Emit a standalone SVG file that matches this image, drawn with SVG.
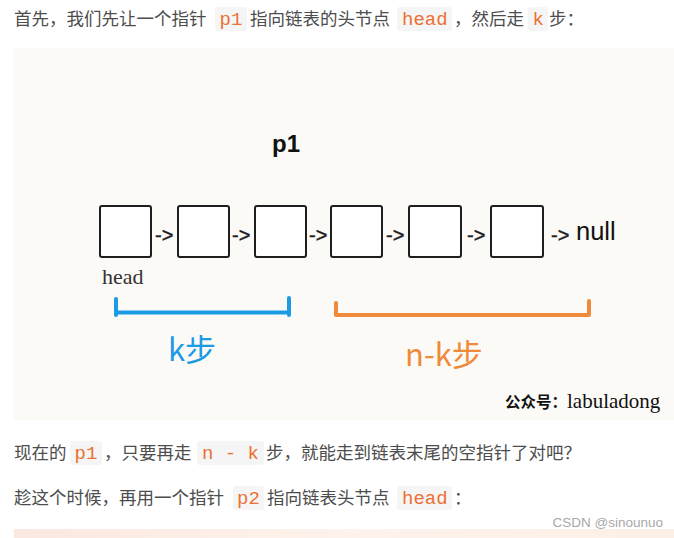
<svg xmlns="http://www.w3.org/2000/svg" width="674" height="538" viewBox="0 0 674 538">
<defs>
<style>
.body{font-family:"Noto Sans CJK SC","Liberation Sans",sans-serif;font-size:17.5px;fill:#4d4d4d}
.code{font-family:"Liberation Mono","DejaVu Sans Mono",monospace;font-size:19px;fill:#ec7033}
.codebg{fill:#f5f5f5}
.node{fill:#ffffff;stroke:#1e1e1e;stroke-width:2}
.arrow{font-family:"Liberation Sans",Arial,sans-serif;font-size:20px;fill:#1e1e1e;stroke:#1e1e1e;stroke-width:0.4}
.hand{font-family:"Noto Sans CJK SC","Liberation Sans",sans-serif}
</style>
<linearGradient id="strip" x1="0" y1="0" x2="1" y2="0">
<stop offset="0" stop-color="#fbe8e0"/>
<stop offset="0.5" stop-color="#fdf3ec"/>
<stop offset="1" stop-color="#fcefe6"/>
</linearGradient>
</defs>
<rect width="674" height="538" fill="#ffffff"/>

<!-- paragraph 1 -->
<g id="para1">
<text class="body" x="14" y="25">首先，我们先让一个指针</text>
<rect class="codebg" x="215" y="7" width="32" height="24" rx="3"/>
<text class="code" x="219.5" y="25">p1</text>
<text class="body" x="250" y="25">指向链表的头节点</text>
<rect class="codebg" x="397" y="7" width="55" height="24" rx="3"/>
<text class="code" x="402" y="25">head</text>
<text class="body" x="454" y="25">，然后走</text>
<rect class="codebg" x="528" y="7" width="20" height="24" rx="3"/>
<text class="code" x="532.5" y="25">k</text>
<text class="body" x="549" y="25">步：</text>
</g>

<!-- image area -->
<rect x="14" y="48" width="660" height="372" fill="#fbfaf7"/>

<g id="label-p1"><text x="272" y="152" font-family="Liberation Sans,Arial,sans-serif" font-weight="bold" font-size="24" fill="#111">p1</text></g>

<g id="node1"><rect class="node" x="100" y="206" width="51" height="51" rx="2"/></g>
<g id="node2"><rect class="node" x="178" y="206" width="51" height="51" rx="2"/></g>
<g id="node3"><rect class="node" x="255" y="206" width="51" height="51" rx="2"/></g>
<g id="node4"><rect class="node" x="331" y="206" width="51" height="51" rx="2"/></g>
<g id="node5"><rect class="node" x="409" y="206" width="52" height="51" rx="2"/></g>
<g id="node6"><rect class="node" x="491" y="206" width="52" height="51" rx="2"/></g>

<g id="connectors">
<text class="arrow" x="155" y="242">-&gt;</text>
<text class="arrow" x="232" y="242">-&gt;</text>
<text class="arrow" x="309" y="242">-&gt;</text>
<text class="arrow" x="386" y="242">-&gt;</text>
<text class="arrow" x="467" y="242">-&gt;</text>
<text class="arrow" x="551" y="242">-&gt;</text>
</g>

<g id="null"><text x="576" y="240" font-family="Liberation Sans,Arial,sans-serif" font-size="25.5" fill="#111">null</text></g>

<g id="label-head"><text x="102" y="284" font-family="Liberation Serif,'Times New Roman',serif" font-size="22" fill="#333">head</text></g>

<g id="bracket-k">
<path d="M116,299 V315 M116,312.5 H289 M289,298 V315" fill="none" stroke="#1b9be3" stroke-width="4" stroke-linecap="round"/>
<text class="hand" x="168" y="361" font-size="31" fill="#1b9be3">k步</text>
</g>

<g id="bracket-nk">
<path d="M336,303 V315 H589 V301" fill="none" stroke="#ee8a3a" stroke-width="4" stroke-linecap="round" stroke-linejoin="round"/>
<text class="hand" x="405" y="366" font-size="31" fill="#ee8a3a">n-k步</text>
</g>

<g id="watermark-img">
<text x="505" y="408" font-family="Noto Sans CJK SC,sans-serif" font-weight="bold" font-size="15.5" fill="#111">公众号：</text>
<text x="567" y="408" font-family="Liberation Serif,'Times New Roman',serif" font-size="21" fill="#111">labuladong</text>
</g>

<!-- paragraph 2 -->
<g id="para2">
<text class="body" x="14" y="459">现在的</text>
<rect class="codebg" x="70" y="441" width="32" height="24" rx="3"/>
<text class="code" x="74.5" y="459">p1</text>
<text class="body" x="104" y="459">，只要再走</text>
<rect class="codebg" x="197" y="441" width="67" height="24" rx="3"/>
<text class="code" x="202" y="459" xml:space="preserve">n - k</text>
<text class="body" x="266" y="459">步，就能走到链表末尾的空指针了对吧？</text>
</g>

<!-- paragraph 3 -->
<g id="para3">
<text class="body" x="14" y="504">趁这个时候，再用一个指针</text>
<rect class="codebg" x="233" y="486" width="31" height="24" rx="3"/>
<text class="code" x="237" y="504">p2</text>
<text class="body" x="267" y="504">指向链表头节点</text>
<rect class="codebg" x="397" y="486" width="55" height="24" rx="3"/>
<text class="code" x="402" y="504">head</text>
<text class="body" x="454" y="504">：</text>
</g>

<g id="csdn"><text x="663" y="527" text-anchor="end" font-family="Liberation Sans,Arial,sans-serif" font-size="13.5" fill="#a8a8a8">CSDN @sinounuo</text></g>

<rect x="14" y="529" width="660" height="9" fill="url(#strip)"/>
</svg>
